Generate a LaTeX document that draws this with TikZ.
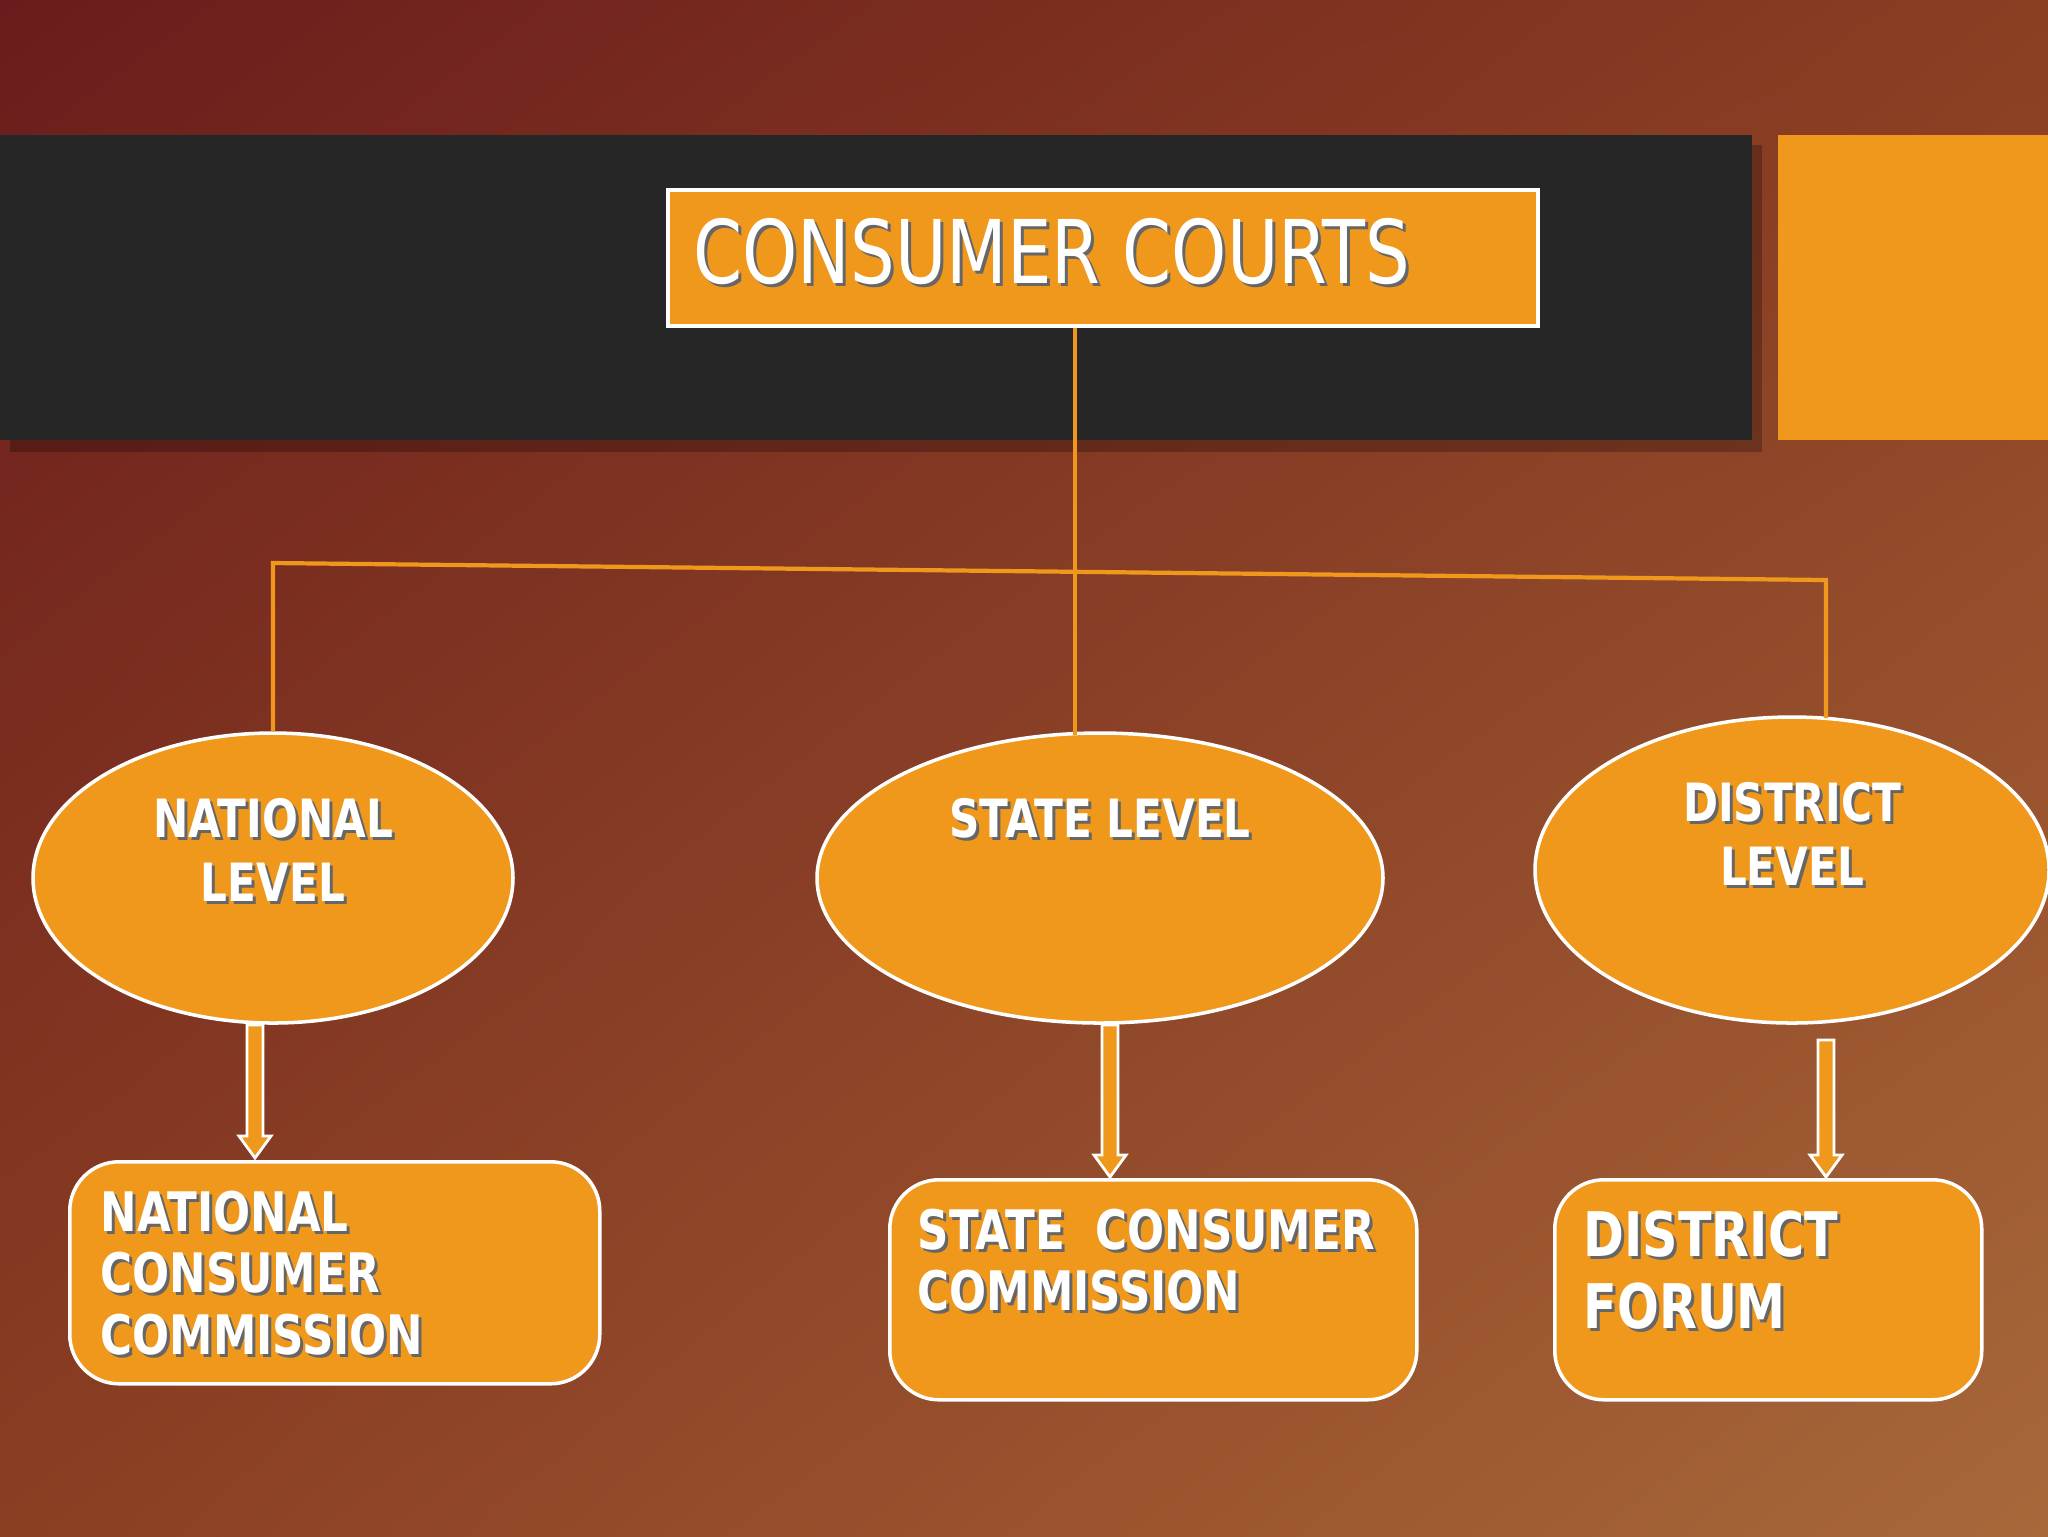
\documentclass[tikz,border=0pt]{standalone}
\usepackage{fontspec}
\setmainfont{DejaVu Sans}
\newfontfamily\tfont[FakeStretch=0.8]{DejaVu Sans}
\usetikzlibrary{shapes.geometric,shadows,shadings}
\definecolor{org}{HTML}{F0981C}
\definecolor{band}{HTML}{262626}
\definecolor{bgA}{HTML}{6A1C1C}
\definecolor{bgB}{HTML}{8A3E22}
\definecolor{bgC}{HTML}{A8683A}
\tikzset{
 ell/.style={ellipse,draw=white,line width=1pt,fill=org},
 rbox/.style={rounded corners=14pt,draw=white,line width=1pt,fill=org},
 conn/.style={draw=org,line width=1.2pt},
 lbl/.style={text=white,font=\tfont\bfseries\fontsize{15}{18}\selectfont,align=center,inner sep=0pt,anchor=north},
 shd/.style={text=black!60,font=\tfont\bfseries\fontsize{15}{18}\selectfont,align=center,inner sep=0pt,anchor=north},
 blk/.style={draw=white,line width=0.8pt,fill=org}
}
\newcommand{\stxt}[4]{\node[shd,#1] at ([xshift=0.3mm,yshift=-0.3mm]#2) {#4};\node[lbl,#1] (#3) at (#2) {#4};}
\begin{document}
\begin{tikzpicture}[x=0.1mm,y=-0.1mm]
\useasboundingbox (0,0) rectangle (2048,1536);
\shade[upper left=bgA, upper right=bgB, lower left=bgB, lower right=bgC] (0,0) rectangle (2048,1536);
\fill[black,opacity=0.25] (10,145) rectangle (1762,452);
\fill[band] (0,135) rectangle (1752,440);
\fill[org] (1778,135) rectangle (2048,440);
\node[draw=white,line width=1pt,fill=org,minimum width=87mm,minimum height=13.6mm,anchor=north west] (title) at (666,188) {};
\node[text=black!60,font=\tfont\fontsize{25}{30}\selectfont,anchor=west] at (684,254) {CONSUMER COURTS};
\node[text=white,font=\tfont\fontsize{25}{30}\selectfont,anchor=west] at (681,251) {CONSUMER COURTS};
\coordinate (j) at (1075,571);
\coordinate (l) at (273,563);
\coordinate (r) at (1826,580);
\node[ell,minimum width=48mm,minimum height=29mm] (nat) at (273,878) {};
\node[ell,minimum width=56.6mm,minimum height=29mm] (sta) at (1100,878) {};
\node[ell,minimum width=51.4mm,minimum height=30.6mm] (dis) at (1792,870) {};
\draw[conn] (title.south -| j) -- (1075,735);
\draw[conn] (nat.north) -- (l) -- (r) -- (1826,718);
\stxt{}{273,798}{tn}{NATIONAL\\LEVEL}
\stxt{}{1100,798}{ts}{STATE LEVEL}
\stxt{}{1792,782}{td}{DISTRICT\\LEVEL}
\node[rbox,minimum width=53mm,minimum height=22.2mm,anchor=north west] (b1) at (68,1160) {};
\node[rbox,minimum width=52.7mm,minimum height=22mm,anchor=north west] (b2) at (888,1178) {};
\node[rbox,minimum width=42.7mm,minimum height=22mm,anchor=north west] (b3) at (1553,1178) {};
\tikzset{bt/.style={align=left,anchor=north west,font=\tfont\bfseries\fontsize{15.5}{17.5}\selectfont}}
\node[shd,bt] at (103,1193) {NATIONAL\\CONSUMER\\COMMISSION};
\node[lbl,bt] (t1) at (100,1190) {NATIONAL\\CONSUMER\\COMMISSION};
\node[shd,bt] at (920,1211) {STATE\ \ CONSUMER\\COMMISSION};
\node[lbl,bt] (t2) at (917,1208) {STATE\ \ CONSUMER\\COMMISSION};
\tikzset{bt/.style={align=left,anchor=north west,font=\tfont\bfseries\fontsize{17.5}{20.4}\selectfont}}
\node[shd,bt] at (1586,1213) {DISTRICT\\FORUM};
\node[lbl,bt] (t3) at (1583,1210) {DISTRICT\\FORUM};
\foreach \x/\a/\b in {255/1025/1158,1110/1025/1177,1826/1040/1177}{
 \draw[blk] (\x-8,\a) -- (\x+8,\a) -- (\x+8,\b-22) -- (\x+16,\b-22) -- (\x,\b) -- (\x-16,\b-22) -- (\x-8,\b-22) -- cycle;
}
\end{tikzpicture}
\end{document}
